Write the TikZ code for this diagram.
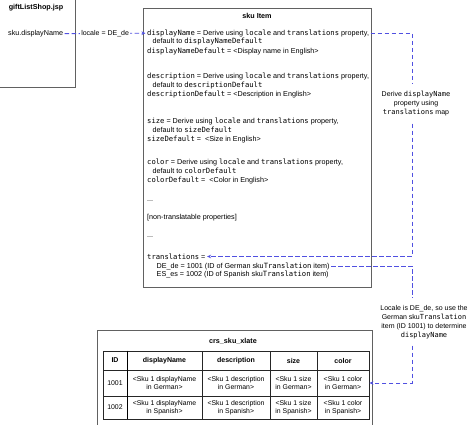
\documentclass[tikz,border=0pt]{standalone}
\usepackage{fontspec}
\setmainfont{Liberation Sans}
\newfontfamily\monof{DejaVu Sans Mono}
\newcommand{\mt}[1]{{\monof #1}}
\usetikzlibrary{arrows.meta}
\definecolor{dblue}{RGB}{80,80,225}
\begin{document}
\begin{tikzpicture}[x=1pt,y=-1pt,
  every node/.style={font=\fontsize{7}{9}\selectfont},
  frame/.style={draw=black!62, line width=1.1pt, inner sep=0pt, anchor=north west},
  ttl/.style={font=\bfseries\fontsize{7.2}{9}\selectfont, inner sep=0pt},
  txt/.style={anchor=base west, inner xsep=1.5pt, inner ysep=0pt, font=\fontsize{7.2}{9}\selectfont},
  conn/.style={draw=dblue, line width=0.9pt, dash pattern=on 4.5pt off 2.5pt},
  tip/.style={-{Stealth[length=4pt,width=3.6pt]}},
  ann/.style={align=center, inner sep=0pt},
  cell/.style={draw=black!85, line width=0.8pt, inner sep=0pt, align=center, font=\fontsize{6.9}{7.6}\selectfont},
  head/.style={cell, font=\bfseries\fontsize{7}{8}\selectfont},
  cid/.style={minimum width=24pt}, cdn/.style={minimum width=75pt},
  cde/.style={minimum width=68pt}, csz/.style={minimum width=47pt},
  cco/.style={minimum width=52pt},
  rh/.style={minimum height=19pt}, ra/.style={minimum height=26pt},
  rb/.style={minimum height=23pt},
]
\clip (0,0) rectangle (474,425);
\fill[white] (0,0) rectangle (474,425);

% frames
\node[frame, minimum width=80pt, minimum height=92pt] (gls) at (-5,-5) {};
\node[frame, minimum width=228pt, minimum height=279pt] (sku) at (143,8) {};
\node[frame, minimum width=275pt, minimum height=110pt] (xl) at (97,330) {};

% left box
\node[ttl] (glsT) at (36,8) {giftListShop.jsp};
\node[txt] (sdn) at (6.5,35.5) {sku.displayName};

% sku item
\node[ttl] (skuT) at (257,16) {sku Item};
\node[txt] (dn)  at (145.5,35.2) {\mt{displayName} = Derive using \mt{locale} and \mt{translations} property,};
\node[txt] (dnd) at (151,43.8) {default to \mt{displayNameDefault}};
\node[txt] (dnD) at (145.5,53.5) {\mt{displayNameDefault} = <Display name in English>};
\node[txt] (de)  at (145.5,78.8) {\mt{description} = Derive using \mt{locale} and \mt{translations} property,};
\node[txt] (ded) at (151,87.5) {default to \mt{descriptionDefault}};
\node[txt] (deD) at (145.5,96.8) {\mt{descriptionDefault} = <Description in English>};
\node[txt] (sz)  at (145.5,123.8) {\mt{size} = Derive using \mt{locale} and \mt{translations} property,};
\node[txt] (szd) at (151,132.5) {default to \mt{sizeDefault}};
\node[txt] (szD) at (145.5,141.8) {\mt{sizeDefault} = \ <Size in English>};
\node[txt] (co)  at (145.5,164.8) {\mt{color} = Derive using \mt{locale} and \mt{translations} property,};
\node[txt] (cod) at (151,173.5) {default to \mt{colorDefault}};
\node[txt] (coD) at (145.5,182.8) {\mt{colorDefault} = \ <Color in English>};
\node[txt] (dots1) at (145.5,201.8) {...};
\node[txt] (np)  at (145.5,219.8) {[non-translatable properties]};
\node[txt] (dots2) at (145.5,237.5) {...};
\node[txt] (tr)  at (145.5,259.2) {\mt{translations} =};
\node[txt] (trde) at (155,268.2) {DE\_de = 1001 (ID of German sku\mt{Translation} item)};
\node[txt] (tres) at (155,276.5) {ES\_es = 1002 (ID of Spanish sku\mt{Translation} item)};

% annotations
\node[ann, minimum height=39pt] (ann1) at (416,104) {Derive \mt{displayName}\\property using\\\mt{translations} map};
\node[ann, minimum height=47pt] (ann2) at (424,322) {Locale is DE\_de, so use the\\German sku\mt{Translation}\\item (ID 1001) to determine\\\mt{displayName}};

% table
\node[ttl] (xlT) at (233,341) {crs\_sku\_xlate};
\node[head,cid,rh] (hid) at (115,360.5) {ID};
\node[head,cdn,rh] (hdn) at (164.5,360.5) {displayName};
\node[head,cde,rh] (hde) at (236,360.5) {description};
\node[head,csz,rh] (hsz) at (293.5,360.5) {size};
\node[head,cco,rh] (hco) at (343,360.5) {color};
\node[cell,cid,ra] (aid) at (115,383) {1001};
\node[cell,cdn,ra] (adn) at (164.5,383) {<Sku 1 displayName\\in German>};
\node[cell,cde,ra] (ade) at (236,383) {<Sku 1 description\\in German>};
\node[cell,csz,ra] (asz) at (293.5,383) {<Sku 1 size\\in German>};
\node[cell,cco,ra] (aco) at (343,383) {<Sku 1 color\\in German>};
\node[cell,cid,rb] (bid) at (115,407.5) {1002};
\node[cell,cdn,rb] (bdn) at (164.5,407.5) {<Sku 1 displayName\\in Spanish>};
\node[cell,cde,rb] (bde) at (236,407.5) {<Sku 1 description\\in Spanish>};
\node[cell,csz,rb] (bsz) at (293.5,407.5) {<Sku 1 size\\in Spanish>};
\node[cell,cco,rb] (bco) at (343,407.5) {<Sku 1 color\\in Spanish>};
\draw[line width=1.4pt] (hid.north east) -- (bid.south east);

% connectors
\draw[conn,tip] (sdn.east) -- (dn.west) node[midway, fill=white, inner sep=1.2pt] (loc) {locale = DE\_de};
\draw[conn] (dn.east) -| ([xshift=-4pt]ann1.north);
\draw[conn,tip] ([xshift=-4pt]ann1.south) |- (tr.east);
\draw[conn] (trde.east) -| ([xshift=-12pt]ann2.north);
\draw[conn,tip] ([xshift=-12pt]ann2.south) |- (aco.east);
\end{tikzpicture}
\end{document}
